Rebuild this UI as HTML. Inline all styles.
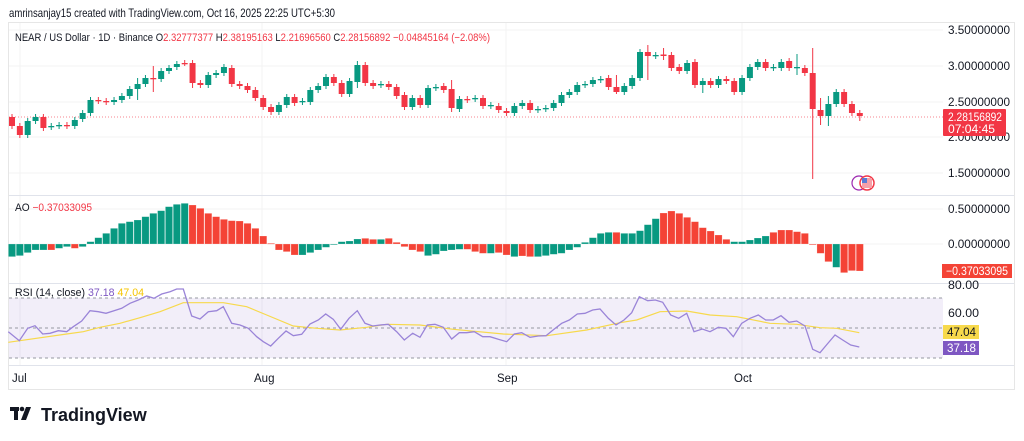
<!DOCTYPE html>
<html><head><meta charset="utf-8"><style>
body{margin:0;width:1024px;height:441px;background:#fff;overflow:hidden;font-family:"Liberation Sans",sans-serif}
svg{position:absolute;left:0;top:0}
</style></head><body>
<svg id="s" width="1024" height="441" xmlns="http://www.w3.org/2000/svg" font-family="Liberation Sans, sans-serif">
<text x="9" y="17" font-size="12" fill="#131722" textLength="326" lengthAdjust="spacingAndGlyphs">amrinsanjay15 created with TradingView.com, Oct 16, 2025 22:25 UTC+5:30</text>
<rect x="8.5" y="22.5" width="1006" height="367" fill="none" stroke="#e6e6e6"/>
<g stroke="#f3f3f3">
<line x1="9" x2="943" y1="30" y2="30"/><line x1="9" x2="943" y1="66" y2="66"/><line x1="9" x2="943" y1="102" y2="102"/><line x1="9" x2="943" y1="137" y2="137"/><line x1="9" x2="943" y1="173" y2="173"/>
<line x1="9" x2="943" y1="209" y2="209"/><line x1="9" x2="943" y1="244" y2="244"/>
<line x1="20" x2="20" y1="23" y2="365"/><line x1="262" x2="262" y1="23" y2="365"/><line x1="506" x2="506" y1="23" y2="365"/><line x1="742" x2="742" y1="23" y2="365"/>
</g>
<line x1="9" x2="1014" y1="195.5" y2="195.5" stroke="#e0e3eb"/>
<line x1="9" x2="1014" y1="283.5" y2="283.5" stroke="#e0e3eb"/>
<line x1="9" x2="1014" y1="365.5" y2="365.5" stroke="#e0e3eb"/>
<rect x="9" y="298" width="934" height="60" fill="#7e57c2" fill-opacity="0.1"/>
<g stroke="#9598a1" stroke-dasharray="3,3"><line x1="9" x2="943" y1="298" y2="298"/><line x1="9" x2="943" y1="328" y2="328"/><line x1="9" x2="943" y1="358" y2="358"/></g>
<line x1="9" x2="943" y1="117" y2="117" stroke="#f23645" stroke-dasharray="1,2" stroke-opacity="0.6"/>
<g id="c"></g><g id="ao"></g>
<polyline id="ma" fill="none" stroke="#f7d94c" stroke-width="1.2"/>
<polyline id="rsi" fill="none" stroke="#9a84d8" stroke-width="1.3"/>
<text x="15" y="41" font-size="11" fill="#131722" textLength="475" lengthAdjust="spacingAndGlyphs">NEAR / US Dollar · 1D · Binance  O<tspan fill="#f23645">2.32777377</tspan>  H<tspan fill="#f23645">2.38195163</tspan>  L<tspan fill="#f23645">2.21696560</tspan>  C<tspan fill="#f23645">2.28156892  −0.04845164 (−2.08%)</tspan></text>
<text x="15" y="211" font-size="11" fill="#131722" textLength="77" lengthAdjust="spacingAndGlyphs">AO  <tspan fill="#f23645">−0.37033095</tspan></text>
<text x="15" y="296" font-size="11" fill="#131722" textLength="129" lengthAdjust="spacingAndGlyphs">RSI (14, close)  <tspan fill="#7e57c2">37.18</tspan>  <tspan fill="#f5c400">47.04</tspan></text>
<g font-size="11.5" fill="#131722">
<text x="948" y="34" textLength="62" lengthAdjust="spacingAndGlyphs">3.50000000</text><text x="948" y="70" textLength="62" lengthAdjust="spacingAndGlyphs">3.00000000</text><text x="948" y="106" textLength="62" lengthAdjust="spacingAndGlyphs">2.50000000</text><text x="948" y="141" textLength="62" lengthAdjust="spacingAndGlyphs">2.00000000</text><text x="948" y="177" textLength="62" lengthAdjust="spacingAndGlyphs">1.50000000</text>
<text x="948" y="213" textLength="62" lengthAdjust="spacingAndGlyphs">0.50000000</text><text x="948" y="248" textLength="62" lengthAdjust="spacingAndGlyphs">0.00000000</text>
<text x="948" y="289" textLength="31" lengthAdjust="spacingAndGlyphs">80.00</text><text x="948" y="317" textLength="31" lengthAdjust="spacingAndGlyphs">60.00</text>
</g>
<rect x="943" y="109" width="63" height="27" rx="1" fill="#f23645"/>
<text x="948" y="121" font-size="11.5" fill="#fff" textLength="54" lengthAdjust="spacingAndGlyphs">2.28156892</text><text x="948" y="133" font-size="11.5" fill="#fff" textLength="47" lengthAdjust="spacingAndGlyphs">07:04:45</text>
<rect x="942" y="264" width="70" height="14" fill="#f44336"/><text x="946" y="275" font-size="11.5" fill="#fff" textLength="62" lengthAdjust="spacingAndGlyphs">−0.37033095</text>
<rect x="943" y="325" width="36" height="14" fill="#f7d94c"/><text x="947" y="336" font-size="11.5" fill="#131722" textLength="29" lengthAdjust="spacingAndGlyphs">47.04</text>
<rect x="943" y="341" width="36" height="14" fill="#7e57c2"/><text x="947" y="352" font-size="11.5" fill="#fff" textLength="29" lengthAdjust="spacingAndGlyphs">37.18</text>
<g font-size="11.5" fill="#131722"><text x="12" y="382">Jul</text><text x="254" y="382">Aug</text><text x="497" y="382">Sep</text><text x="734" y="382">Oct</text></g>
<circle cx="859" cy="183" r="7" fill="#fff" stroke="#9c27b0" stroke-width="1.2"/>
<circle cx="867" cy="183" r="7" fill="#fff" stroke="#f23645" stroke-width="1.5"/>
<rect x="862" y="178" width="10" height="10" fill="#f7a0a8"/><rect x="862" y="178" width="5" height="5" fill="#5a7bd6"/>
<g fill="#131722"><rect x="10" y="407" width="9" height="4"/><rect x="14" y="407" width="4" height="13"/><circle cx="22" cy="409" r="2.3"/><polygon points="26,407 31,407 26,420 21,420"/></g>
<text x="41" y="421" font-size="18" font-weight="bold" fill="#131722">TradingView</text>
</svg>
<script>
var C=[[117,126],[126,135],[135,121],[121,117],[117,128],[127,126],[126,125],[125,126],[126,120],[119,113],[113,100],[100,101],[101,102],[102,100],[100,96],[96,89],[89,84],[84,78],[78,79],[79,71],[71,68],[67,64],[63,63],[63,83],[83,85],[85,75],[75,73],[73,67],[68,84],[84,86],[86,90],[90,98],[98,107],[107,112],[112,105],[105,97],[97,103],[102,101],[102,90],[90,86],[86,77],[77,83],[83,94],[94,81],[82,65],[65,83],[83,86],[85,84],[84,87],[87,96],[95,107],[107,98],[98,105],[105,88],[88,87],[86,90],[89,108],[109,99],[99,100],[99,98],[98,106],[106,105],[106,110],[111,113],[113,106],[106,103],[103,110],[110,109],[109,108],[108,103],[103,95],[95,92],[92,85],[85,84],[84,80],[80,79],[78,87],[87,92],[92,86],[86,78],[78,52],[52,56],[56,55],[54.5,56],[55,68],[67,71],[71,63],[62,85],[85,81],[81,85],[85,79],[79,81],[81,92],[92,78],[78,67],[67,62],[62,68],[68,67],[68,62],[61,68],[68,67],[68,73],[73,109],[110,116],[116,104],[104,92],[92,104],[104,113],[113,116]];
var W={23:[60,88],44:[61,88],16:[78,100],18:[66,92],81:[45,80],83:[48,60],100:[54,75],102:[48,179],103:[98,125],104:[96,126],108:[110,121],56:[80,112],77:[75,94],88:[78,93]};
var g='',up='#089981',dn='#f23645';
C.forEach(function(d,i){var x=12+i*7.85,o=d[0],c=d[1],col=c<o?up:(c>o?dn:(i%2?up:dn));var t=Math.min(o,c),b=Math.max(o,c),h=W[i]||[t-3,b+3];
g+='<line x1="'+x+'" x2="'+x+'" y1="'+h[0]+'" y2="'+h[1]+'" stroke="'+col+'"/>';g+='<rect x="'+(x-3)+'" y="'+t+'" width="6" height="'+Math.max(b-t,1.3)+'" fill="'+col+'"/>';});
document.getElementById('c').innerHTML=g;
var A=[200,197,188,180,180,180,175,170,175,170,155,143,130,115,100,95,90,80,70,62,50,43,40,45,55,70,80,88,92,93,100,115,138,160,180,185,195,195,188,180,172,163,155,153,147,145,148,148,145,157,170,180,185,197,193,183,180,178,178,185,190,190,188,195,200,198,200,200,197,193,190,180,172,157,143,130,127,127,130,130,122,104,86,69,63,70,82,95,113,123,135,148,155,155,150,144,138,127,120,120,125,130,162,190,215,232,248,242,243];
var AC='GGGGGRGGRGGGGGGGGGGGGGGRRRRRRRRRRRRRRGGGGGGGGRRGRRRRRGGGGGRRRGRRGRRGGGGGGGGGGRGGGGGRRRRRRRRRGGGGGRRRRRRRRGR';
var s='';A.forEach(function(Y,i){var v=(162-Y)/3,x=12+i*7.85,col=AC[i]=='G'?'#089981':'#f44336';var t=v>0?244-v:244,h=Math.max(Math.abs(v),0.8);s+='<rect x="'+(x-3.6)+'" y="'+t+'" width="7.2" height="'+h+'" fill="'+col+'" stroke="#fff" stroke-opacity="0.4" stroke-width="0.5"/>';});
document.getElementById('ao').innerHTML=s;
var R1=[[25,425],[58,452],[83,415],[105,407],[128,432],[150,430],[175,422],[200,425],[220,410],[245,393],[270,362],[295,365],[318,370],[342,362],[365,355],[390,340],[415,330],[440,318],[462,325],[485,312],[510,305],[530,297],[550,297],[575,378],[600,387],[625,365],[650,362],[670,350],[695,400],[720,405],[745,415],[770,440],[790,455],[812,468],[835,445],[858,423],[880,437],[905,433],[930,402],[955,390],[977,372],[1000,388],[1022,418],[1047,385],[1072,362],[1095,400],[1118,408],[1140,405],[1165,403],[1190,425],[1213,450],[1238,430],[1260,442]];
var R2=[[22,405],[45,403],[70,412],[95,447],[118,428],[140,428],[163,425],[188,440],[210,440],[235,448],[260,455],[283,432],[305,428],[330,442],[355,438],[378,437],[402,418],[425,400],[448,390],[472,372],[495,370],[518,360],[540,357],[565,385],[588,405],[612,390],[635,368],[658,320],[683,332],[706,330],[728,337],[752,375],[776,385],[800,370],[822,425],[847,417],[870,425],[895,412],[918,415],[940,440],[965,400],[990,385],[1015,375],[1037,390],[1060,390],[1083,377],[1107,397],[1130,393],[1155,408],[1178,478],[1200,488],[1222,462],[1245,435],[1268,450],[1292,465],[1318,471]];
var p=R1.map(function(q){return (q[0]/3).toFixed(1)+','+(190+q[1]/3).toFixed(1)}).concat(R2.map(function(q){return (420+q[0]/3).toFixed(1)+','+(190+q[1]/3).toFixed(1)}));
document.getElementById('rsi').setAttribute('points',p.join(' '));
var M1=[[25,457],[200,432],[250,425],[300,412],[360,400],[420,383],[480,365],[550,338],[600,338],[670,338],[740,350],[800,375],[880,408],[950,415],[1020,420],[1100,412],[1160,403],[1260,405]];
var M2=[[100,418],[250,432],[380,437],[500,420],[600,398],[650,390],[720,365],[800,363],[870,375],[950,380],[1050,400],[1130,403],[1200,413],[1250,415],[1318,428]];
var m=M1.map(function(q){return (q[0]/3).toFixed(1)+','+(190+q[1]/3).toFixed(1)}).concat(M2.map(function(q){return (420+q[0]/3).toFixed(1)+','+(190+q[1]/3).toFixed(1)}));
document.getElementById('ma').setAttribute('points',m.join(' '));
</script>
</body></html>
